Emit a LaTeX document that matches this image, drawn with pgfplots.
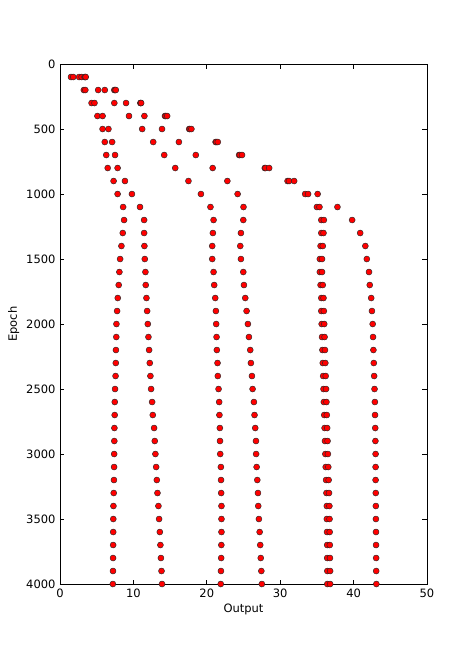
\documentclass[border=0pt]{standalone}
\usepackage{pgfplots}
\pgfplotsset{compat=1.18}
\usepackage{pgfplotstable}
\usepackage{fontspec}
\setmainfont{DejaVu Sans}
\pgfplotstableread{
epoch A B C D E F G
100 1.5 1.8 2.6 2.95 3.35 3.45 3.5
200 3.25 3.45 5.2 6.1 7.4 7.5 7.6
300 4.3 4.7 7.4 9.0 10.95 11.0 11.05
400 5.1 5.8 9.4 11.5 14.3 14.4 14.6
500 5.8 6.6 11.2 13.9 17.6 17.7 17.9
600 6.1 7.1 12.7 16.2 21.2 21.3 21.5
700 6.3 7.5 14.2 18.5 24.4 24.5 24.8
800 6.5 7.85 15.7 20.8 27.9 28.0 28.5
900 7.3 8.85 17.5 22.8 31.0 31.2 31.9
1000 7.85 9.8 19.2 24.2 33.4 33.8 35.1
1100 8.6 10.9 20.5 25.0 35.0 35.35 37.8
1200 8.73 11.46 20.92 24.97 35.6 35.95 39.8
1300 8.55 11.46 20.83 24.65 35.6 35.9 40.9
1400 8.37 11.5 20.74 24.56 35.5 35.8 41.6
1500 8.19 11.55 20.74 24.65 35.4 35.7 41.8
1600 8.09 11.64 20.92 24.97 35.4 35.7 42.1
1700 8.0 11.68 21.01 25.06 35.5 35.8 42.2
1800 7.87 11.78 21.15 25.24 35.6 35.9 42.4
1900 7.78 11.87 21.24 25.42 35.6 35.95 42.5
2000 7.69 11.96 21.28 25.6 35.65 36.0 42.6
2100 7.67 12.05 21.33 25.74 35.7 36.05 42.65
2200 7.62 12.14 21.37 25.92 35.75 36.1 42.7
2300 7.6 12.23 21.46 26.01 35.8 36.15 42.75
2400 7.57 12.32 21.5 26.15 35.85 36.2 42.8
2500 7.5 12.41 21.6 26.24 35.9 36.25 42.85
2600 7.46 12.55 21.69 26.42 35.95 36.3 42.9
2700 7.45 12.64 21.72 26.5 36.0 36.35 42.92
2800 7.41 12.82 21.78 26.6 36.05 36.4 42.95
2900 7.4 12.91 21.8 26.7 36.1 36.45 42.97
3000 7.38 13.0 21.83 26.72 36.15 36.5 43.0
3100 7.37 13.1 21.92 26.79 36.2 36.55 43.0
3200 7.35 13.19 21.94 26.88 36.25 36.6 43.0
3300 7.32 13.28 21.96 26.97 36.3 36.65 43.02
3400 7.28 13.41 22.0 27.01 36.35 36.7 43.03
3500 7.26 13.5 22.0 27.1 36.35 36.72 43.04
3600 7.25 13.6 22.0 27.2 36.38 36.74 43.05
3700 7.24 13.68 21.98 27.28 36.4 36.76 43.06
3800 7.23 13.75 21.96 27.35 36.4 36.78 43.07
3900 7.22 13.83 21.93 27.43 36.42 36.8 43.08
4000 7.2 13.9 21.9 27.5 36.42 36.8 43.1
}\data
\begin{document}
\begin{tikzpicture}[x=1pt,y=1pt]
\path[use as bounding box] (0,0) rectangle (474,649);
\begin{axis}[
  at={(60pt,65pt)}, anchor=south west,
  scale only axis, width=367pt, height=520pt,
  xmin=0, xmax=50, ymin=0, ymax=4000,
  y dir=reverse,
  xtick={0,10,...,50}, ytick={0,500,...,4000},
  tick align=inside,
  major tick length=4.5pt,
  tick style={black, line width=0.6pt},
  axis line style={line width=0.8pt},
  /pgf/number format/1000 sep={},
  /pgf/number format/assume math mode=true,
  tick label style={font=\fontsize{11.5}{13}\selectfont},
  label style={font=\fontsize{11.5}{13}\selectfont},
  xlabel={Output}, ylabel={Epoch},
  xticklabel style={yshift=-1pt},
  yticklabel style={xshift=-1pt},
  pt/.style={only marks, mark=*, mark size=3pt,
    mark options={fill=red, draw=black!85, line width=0.45pt}},
]
\addplot[pt] table[x=A, y=epoch] {\data};
\addplot[pt] table[x=B, y=epoch] {\data};
\addplot[pt] table[x=C, y=epoch] {\data};
\addplot[pt] table[x=D, y=epoch] {\data};
\addplot[pt] table[x=E, y=epoch] {\data};
\addplot[pt] table[x=F, y=epoch] {\data};
\addplot[pt] table[x=G, y=epoch] {\data};
\end{axis}
\end{tikzpicture}
\end{document}
